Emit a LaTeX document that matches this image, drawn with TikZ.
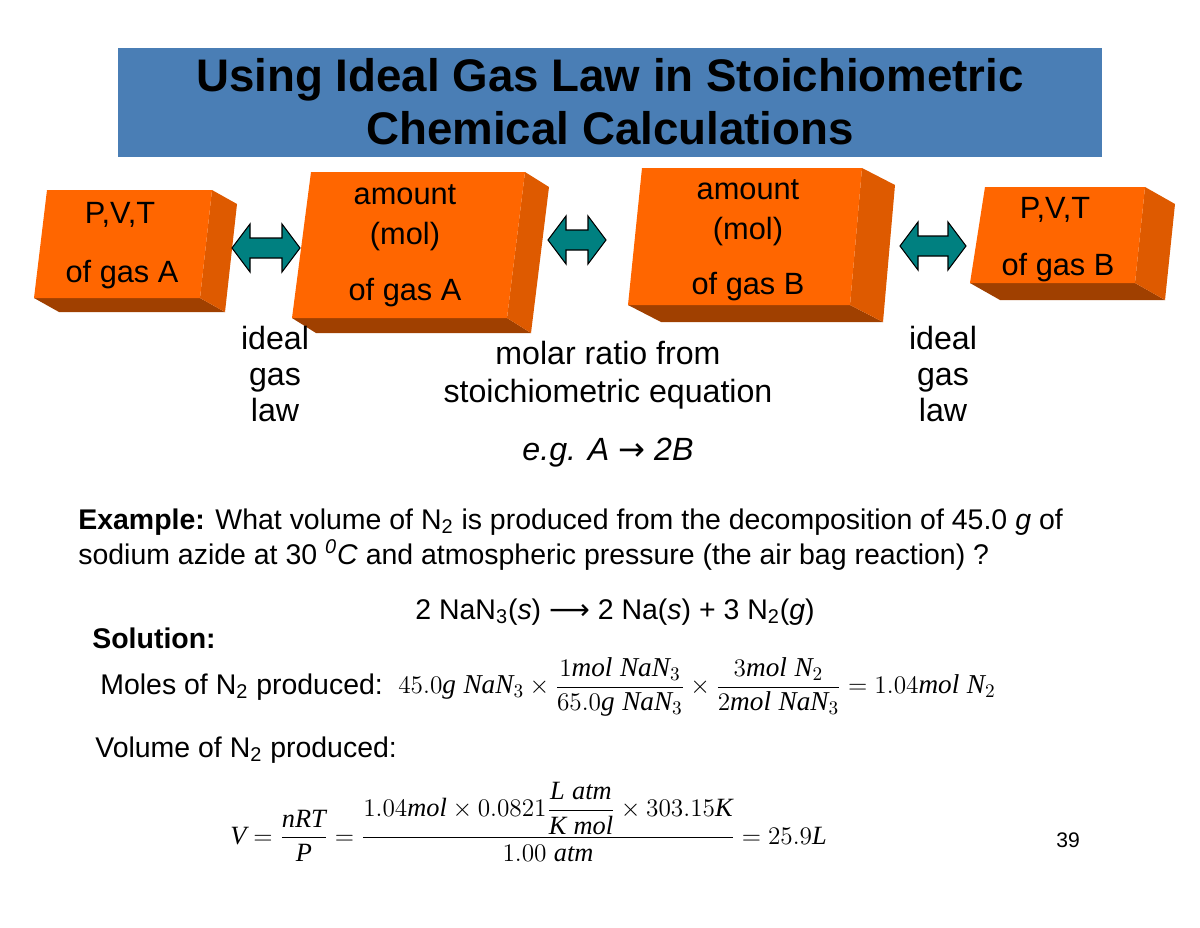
\documentclass[tikz,border=0pt]{standalone}
\usepackage{amsmath}
\usepackage{fontspec}
\setmainfont{Liberation Sans}
\setmathrm{Liberation Serif}
\newfontfamily\dejavu{DejaVu Sans}
\begin{document}
\begin{tikzpicture}[x=0.02cm,y=-0.02cm,
  front/.style={fill={rgb,255:red,255;green,102;blue,0}},
  side/.style={fill={rgb,255:red,222;green,90;blue,0}},
  bottom/.style={fill={rgb,255:red,160;green,64;blue,0}},
  btxt/.style={font=\fontsize{17.5}{20}\selectfont},
  body/.style={font=\fontsize{16.2}{19}\selectfont, inner sep=0pt},
  lab/.style={font=\fontsize{18.3}{20.6}\selectfont, inner sep=0pt, align=center},
  dbl/.style={fill={rgb,255:red,0;green,128;blue,128}, draw=black, line width=0.6pt}]
\useasboundingbox (0,0) rectangle (1200,927);
\fill[white] (0,0) rectangle (1200,927);
% title
\node[fill={rgb,255:red,74;green,126;blue,181}, minimum width=984*0.02cm, minimum height=109*0.02cm, inner sep=0pt] (title) at (610,102) {};
\node[font=\fontsize{26}{30}\selectfont\bfseries, align=center] (tt) at (610,102) {Using Ideal Gas Law in Stoichiometric\\Chemical Calculations};
% boxes
\newcommand{\gbox}[8]{%
  \fill[bottom] (#6,#5) -- (#4,#5) -- (#4+#7,#5+#8) -- (#6+#7,#5+#8) -- cycle;
  \fill[side] (#3,#2) -- (#3+#7,#2+#8) -- (#4+#7,#5+#8) -- (#4,#5) -- cycle;
  \fill[front] (#1,#2) -- (#3,#2) -- (#4,#5) -- (#6,#5) -- cycle;}
\gbox{47}{190}{212}{200}{298}{34}{25}{14}
\gbox{311}{172}{525}{507}{318}{292}{24}{15}
\gbox{642}{168}{862}{850}{305}{628}{33}{17}
\gbox{985}{187}{1145}{1135}{283}{970}{30}{17}
\node[btxt] (b1a) at (120,215) {P,V,T};
\node[btxt] (b1b) at (122,275) {of gas A};
\node[btxt] (b2a) at (405,195) {amount};
\node[btxt] (b2b) at (405,237) {(mol)};
\node[btxt] (b2c) at (405,293) {of gas A};
\node[btxt] (b3a) at (748,190) {amount};
\node[btxt] (b3b) at (748,232) {(mol)};
\node[btxt] (b3c) at (748,287) {of gas B};
\node[btxt] (b4a) at (1055,210) {P,V,T};
\node[btxt] (b4b) at (1058,268) {of gas B};
% arrows
\newcommand{\dblarr}[3]{%
  \draw[dbl] (#1,#3) -- (#1+18,#3-24) -- (#1+18,#3-10) -- (#2-18,#3-10) -- (#2-18,#3-24) -- (#2,#3) -- (#2-18,#3+24) -- (#2-18,#3+10) -- (#1+18,#3+10) -- (#1+18,#3+24) -- cycle;}
\dblarr{232}{300}{248}
\dblarr{548}{606}{240}
\dblarr{900}{966}{246}
% labels
\node[lab] (ig1) at (275,374) {ideal\\gas\\law};
\node[lab] (ig2) at (943,374) {ideal\\gas\\law};
\node[lab, font=\fontsize{18.3}{21.5}\selectfont] (mr) at (608,375) {molar ratio from\\stoichiometric equation};
\node[lab, font=\fontsize{18.3}{24}\selectfont\itshape] (eg) at (608,453) {e.g. A {\dejavu\upshape→} 2B};
% example
\node[body, anchor=west] (ex1) at (78,522) {\textbf{Example:} What volume of N\textsubscript{2} is produced from the decomposition of 45.0 \textit{g} of};
\node[body, anchor=west] (ex2) at (78,555) {sodium azide at 30 \textsuperscript{\textit{0}}\textit{C} and atmospheric pressure (the air bag reaction) ?};
\node[body] (rx) at (615,612) {2 NaN\textsubscript{3}(\textit{s}) {\dejavu⟶} 2 Na(\textit{s}) + 3 N\textsubscript{2}(\textit{g})};
\node[body, anchor=west] (sol) at (92,638) {\textbf{Solution:}};
\node[body, anchor=west] (mo) at (100,687) {Moles of N\textsubscript{2} produced:};
\node[anchor=west, inner sep=0pt, font=\fontsize{15.5}{18}\selectfont] (eq1) at (398,687)
 {$45.0\mathit{g}\ \mathit{NaN}_3\times\dfrac{1\mathit{mol}\ \mathit{NaN}_3}{65.0\mathit{g}\ \mathit{NaN}_3}\times\dfrac{3\mathit{mol}\ \mathit{N}_2}{2\mathit{mol}\ \mathit{NaN}_3}=1.04\mathit{mol}\ \mathit{N}_2$};
\node[body, anchor=west] (vo) at (95,750) {Volume of N\textsubscript{2} produced:};
\node[anchor=west, inner sep=0pt, font=\fontsize{15}{18}\selectfont] (eq2) at (230,822)
 {$\mathit{V}=\dfrac{\mathit{nRT}}{\mathit{P}}=\dfrac{1.04\mathit{mol}\times0.0821\dfrac{\mathit{L\ atm}}{\mathit{K\ mol}}\times303.15\mathit{K}}{1.00\ \mathit{atm}}=25.9\mathit{L}$};
\node[body, font=\fontsize{12}{14}\selectfont] (pg) at (1068,840) {39};
\end{tikzpicture}
\end{document}
